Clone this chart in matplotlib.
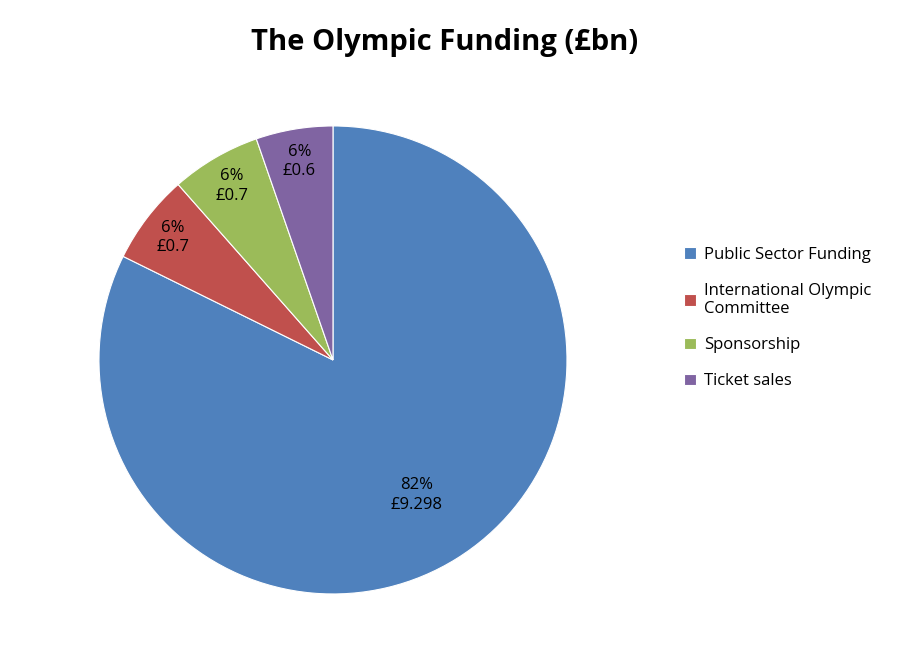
import matplotlib.pyplot as plt
import numpy as np

plt.rcParams["font.family"] = ["Open Sans", "DejaVu Sans"]

categories = ["Public Sector Funding", "International Olympic\nCommittee", "Sponsorship", "Ticket sales"]
values = [9.298, 0.7, 0.7, 0.6]
pct_labels = ["82%", "6%", "6%", "6%"]
value_labels = ["£9.298", "£0.7", "£0.7", "£0.6"]
colors = ["#4F81BD", "#C0504D", "#9BBB59", "#8064A2"]
label_dist = [0.68, 0.86, 0.86, 0.86]

fig = plt.figure(figsize=(8.98, 6.53), dpi=100)
ax = fig.add_axes([0.1102, 0.0904, 0.5212, 0.7167])
wedges, _ = ax.pie(values, colors=colors, startangle=90, counterclock=False,
                   wedgeprops=dict(edgecolor="white", linewidth=0.8))
ax.set_xlim(-1, 1)
ax.set_ylim(-1, 1)
ax.set_aspect("equal")

for w, p, v, d in zip(wedges, pct_labels, value_labels, label_dist):
    ang = np.deg2rad((w.theta1 + w.theta2) / 2)
    ax.text(d * np.cos(ang), d * np.sin(ang), f"{p}\n{v}", ha="center", va="center",
            fontsize=12, linespacing=1.3)

fig.text(0.495, 0.935, "The Olympic Funding (£bn)", ha="center", va="center",
         fontsize=21, fontweight="bold")

fig.legend(wedges, categories, loc="upper left", bbox_to_anchor=(0.745, 0.645),
           frameon=False, fontsize=12, handlelength=0.7, handleheight=0.7,
           handletextpad=0.5, labelspacing=1.2)

fig.savefig("out.png", dpi=100)
